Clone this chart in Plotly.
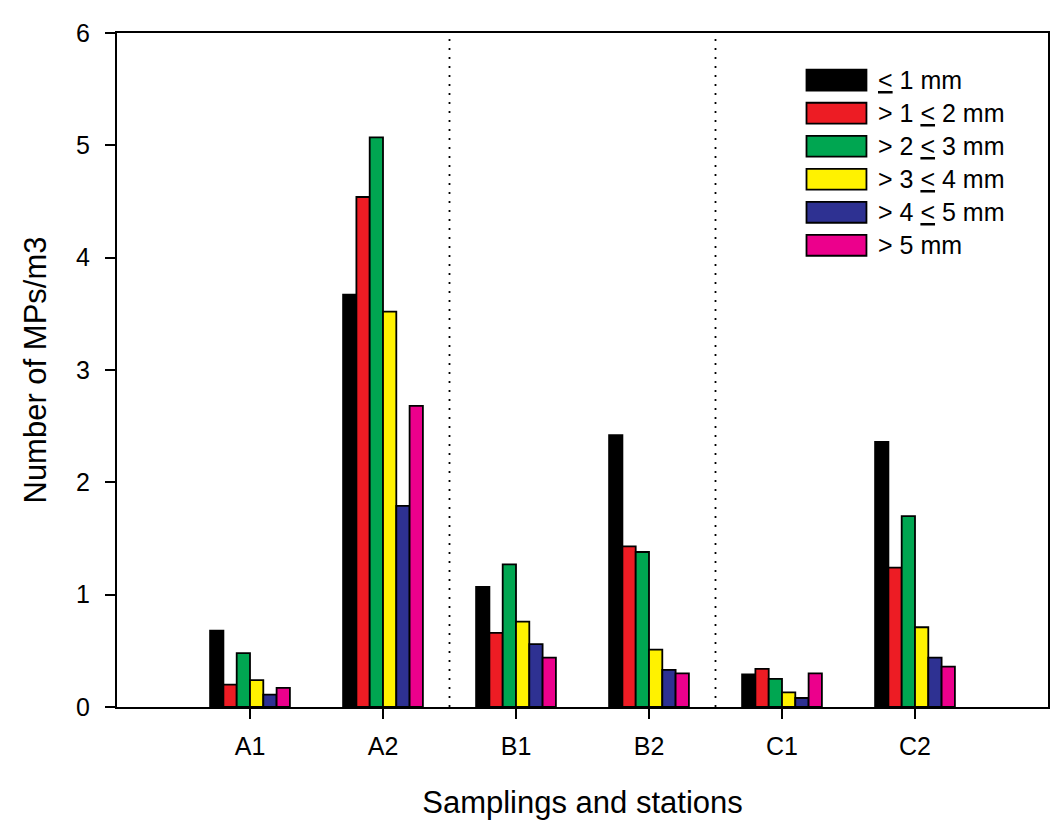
import plotly.graph_objects as go

# stations on the x axis
stations = ["A1", "A2", "B1", "B2", "C1", "C2"]

# size classes (legend labels) and their colours
size_classes = [
    "<u>&lt;</u> 1 mm",
    "&gt; 1 <u>&lt;</u> 2 mm",
    "&gt; 2 <u>&lt;</u> 3 mm",
    "&gt; 3 <u>&lt;</u> 4 mm",
    "&gt; 4 <u>&lt;</u> 5 mm",
    "&gt; 5 mm",
]
colors = ["#000000", "#ED1C24", "#00A651", "#FFF200", "#2E3192", "#EC008C"]

# number of MPs/m3 per size class, one value per station
le_1mm = [0.68, 3.67, 1.07, 2.42, 0.29, 2.36]
gt1_le2 = [0.20, 4.54, 0.66, 1.43, 0.34, 1.24]
gt2_le3 = [0.48, 5.07, 1.27, 1.38, 0.25, 1.70]
gt3_le4 = [0.24, 3.52, 0.76, 0.51, 0.13, 0.71]
gt4_le5 = [0.11, 1.79, 0.56, 0.33, 0.08, 0.44]
gt_5mm = [0.17, 2.68, 0.44, 0.30, 0.30, 0.36]
series = [le_1mm, gt1_le2, gt2_le3, gt3_le4, gt4_le5, gt_5mm]

# dotted separators between samplings (positions between stations)
separators = [1.5, 3.5]

FONT = "Arial, Liberation Sans, sans-serif"

fig = go.Figure()
for name, col, vals in zip(size_classes, colors, series):
    fig.add_trace(go.Bar(
        x=list(range(len(stations))), y=vals, name=name,
        marker=dict(color=col, line=dict(color="black", width=1.8)),
        showlegend=False,
    ))

for s in separators:
    fig.add_shape(type="line", x0=s, x1=s, y0=0, y1=1, xref="x", yref="paper",
                  line=dict(color="black", width=1.8, dash="2px,7px"))

# legend drawn by hand: wide swatches like the original
row_h = 0.049
for i, (name, col) in enumerate(zip(size_classes, colors)):
    yc = 0.93 - i * row_h
    fig.add_shape(type="rect", xref="paper", yref="paper",
                  x0=0.7406, x1=0.805, y0=yc - 0.0155, y1=yc + 0.0155,
                  fillcolor=col, line=dict(color="black", width=1.8))
    fig.add_annotation(text=name, xref="paper", yref="paper", x=0.815, y=yc,
                       xanchor="left", yanchor="middle", showarrow=False,
                       font=dict(size=25, color="black", family=FONT))

# the page body adds an 8px offset, so the figure is a little smaller
fig.update_layout(
    width=1053, height=825,
    margin=dict(l=109, r=11, t=25, b=126),
    paper_bgcolor="white", plot_bgcolor="white",
    barmode="group", bargap=0.4, bargroupgap=0,
    font=dict(family=FONT, color="black", size=25),
)
fig.update_xaxes(
    range=[-1, 6], tickmode="array", tickvals=list(range(len(stations))),
    ticktext=stations, ticks="outside", ticklen=10, tickwidth=2, tickcolor="black",
    showline=True, linecolor="black", linewidth=2.2, mirror=True, showgrid=False,
    zeroline=False, ticklabelstandoff=6,
    title=dict(text="Samplings and stations", font=dict(size=31), standoff=32),
)
fig.update_yaxes(
    range=[0, 6], dtick=1, ticks="outside", ticklen=10, tickwidth=2, tickcolor="black",
    showline=True, linecolor="black", linewidth=2.2, mirror=True, showgrid=False,
    zeroline=False, ticklabelstandoff=10,
    title=dict(text="Number of MPs/m3", font=dict(size=31), standoff=20),
)

fig.write_html("out.html")
